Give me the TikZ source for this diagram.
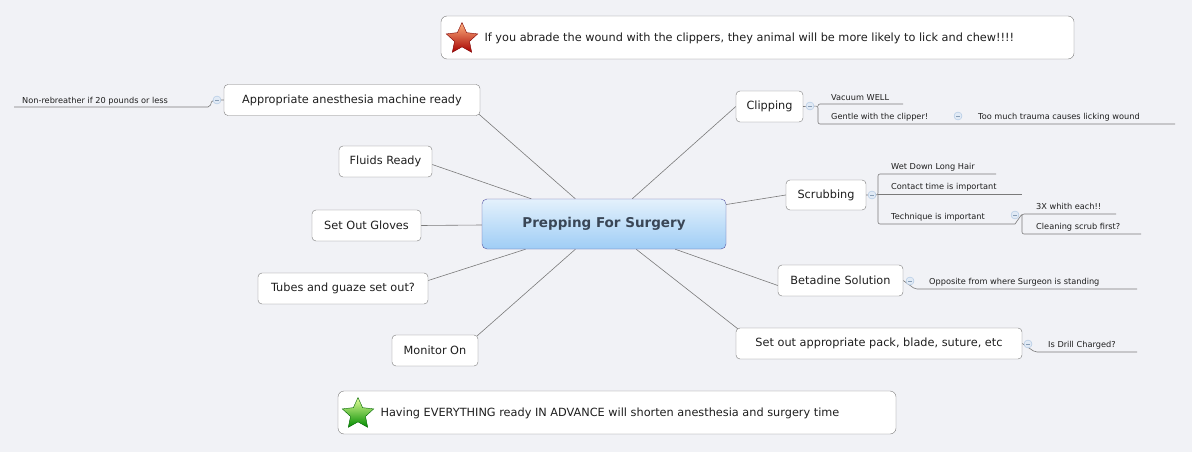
\documentclass[tikz,border=0pt]{standalone}
\usepackage{fontspec}
\setmainfont{DejaVu Sans}
\usetikzlibrary{backgrounds,shapes.geometric}
\definecolor{bgc}{HTML}{F1F2F6}
\definecolor{lnc}{HTML}{7A7A7A}
\definecolor{tc}{HTML}{1E1E1E}
\definecolor{cb}{HTML}{A9C4E2}
\definecolor{ctop}{HTML}{E4F1FC}
\definecolor{cbot}{HTML}{9FCDF5}
\definecolor{ctext}{HTML}{3A4656}
\tikzset{
  topic/.style={draw=lnc,fill=white,rounded corners=4pt,inner sep=0pt,font=\fontsize{11.3}{13}\selectfont,text=tc},
  sub/.style={font=\fontsize{8.2}{10}\selectfont,text=tc,inner sep=0pt},
  con/.style={draw=lnc,line width=0.6pt},
  ul/.style={draw=lnc,line width=0.6pt,rounded corners=2pt},
}
\newcommand{\collapse}[2]{\node[circle,draw=cb,fill=cb!35,minimum size=8pt,inner sep=0pt] at (#1,#2) {}; \draw[cb!80!black,line width=0.5pt] (#1-2,#2) -- (#1+2,#2);}
\begin{document}
\begin{tikzpicture}[x=1pt,y=-1pt]
\useasboundingbox (0,0) rectangle (1192,452);
% center
\node[draw=lnc!70!blue,rounded corners=5pt,top color=ctop,bottom color=cbot,minimum width=244pt,minimum height=50pt,font=\bfseries\fontsize{13.5}{15}\selectfont,text=ctext] (c) at (604,224) {Prepping For Surgery};
% left topics
\node[topic,minimum width=256pt,minimum height=31pt] (a1) at (352,100) {Appropriate anesthesia machine ready};
\node[topic,minimum width=93pt,minimum height=31pt] (a2) at (385.5,161.5) {Fluids Ready};
\node[topic,minimum width=109pt,minimum height=31pt] (a3) at (366.5,225.5) {Set Out Gloves};
\node[topic,minimum width=170pt,minimum height=31pt] (a4) at (343,288.5) {Tubes and guaze set out?};
\node[topic,minimum width=86pt,minimum height=31pt] (a5) at (435,350.5) {Monitor On};
% right topics
\node[topic,minimum width=67pt,minimum height=31pt] (b1) at (769.5,106.5) {Clipping};
\node[topic,minimum width=80pt,minimum height=30pt] (b2) at (826,195) {Scrubbing};
\node[topic,minimum width=125pt,minimum height=31pt] (b3) at (840.5,280.5) {Betadine Solution};
\node[topic,minimum width=286pt,minimum height=31pt] (b4) at (879,343.5) {Set out appropriate pack, blade, suture, etc};
\begin{scope}[on background layer]
\fill[bgc] (0,0) rectangle (1192,452);
\draw[con] (c) -- ([xshift=-3pt,yshift=3pt]a1.south east);
\draw[con] (c) -- ([yshift=-3pt]a2.east);
\draw[con] (c) -- (a3.east);
\draw[con] (c) -- ([yshift=8pt]a4.east);
\draw[con] (c) -- ([xshift=-1pt,yshift=-1pt]a5.north east);
\draw[con] (c) -- (b1.west);
\draw[con] (c) -- (b2.west);
\draw[con] (c) -- ([yshift=-5pt]b3.west);
\draw[con] (c) -- ([xshift=2pt,yshift=-1pt]b4.north west);
\end{scope}
% left subtopic
\node[sub,anchor=base west] (s0) at (22,103) {Non-rebreather if 20 pounds or less};
\draw[ul] (14,107) -- (210,107) -- (212,100) -- (a1.west);
\collapse{217}{100}
% clipping
\draw[ul] (b1.east) -- (818,106) -- (818,124) -- (1175,124);
\draw[ul] (818,106) -- (818,104) -- (903,104);
\collapse{810}{106}
\node[sub,anchor=base west] (s1) at (831,100) {Vacuum WELL};
\node[sub,anchor=base west] (s2) at (831,120) {Gentle with the clipper!};
\node[sub,anchor=base west] (s3) at (978,120) {Too much trauma causes licking wound};
\collapse{958}{116}
% scrubbing
\draw[ul] (b2.east) -- (878,195) -- (878,174) -- (996,174);
\draw[ul] (878,194) -- (1022,194);
\draw[ul] (878,194) -- (878,224) -- (1015,224);
\collapse{872}{195}
\node[sub,anchor=base west] (s4) at (891,169) {Wet Down Long Hair};
\node[sub,anchor=base west] (s5) at (891,189) {Contact time is important};
\node[sub,anchor=base west] (s6) at (891,219) {Technique is important};
\draw[ul] (1015,224) -- (1022,214) -- (1116,214);
\draw[ul] (1022,214) -- (1022,234) -- (1141,234);
\collapse{1015}{215}
\node[sub,anchor=base west] (s7) at (1036,209) {3X whith each!!};
\node[sub,anchor=base west] (s8) at (1036,229) {Cleaning scrub first?};
% betadine
\draw[ul] (b3.east) -- (915,289) -- (1137,289);
\collapse{910}{281}
\node[sub,anchor=base west] (s9) at (929,284) {Opposite from where Surgeon is standing};
% pack
\draw[ul] (b4.east) -- (1035,352) -- (1137,352);
\collapse{1028}{344}
\node[sub,anchor=base west] (s10) at (1048,347) {Is Drill Charged?};
% callouts
\node[draw=lnc,fill=white,rounded corners=6pt,minimum width=633pt,minimum height=43pt] (n1) at (757.5,37.5) {};
\node[star,star points=5,star point ratio=2.1,draw=red!50!black,top color=red!20!orange!50,bottom color=red!65!black,minimum size=33pt,inner sep=0pt] (st1) at (462,39) {};
\node[anchor=west,font=\fontsize{11.3}{13}\selectfont,text=tc] (t1) at (481,38) {If you abrade the wound with the clippers, they animal will be more likely to lick and chew!!!!};
\node[draw=lnc,fill=white,rounded corners=6pt,minimum width=558pt,minimum height=43pt] (n2) at (617,412.5) {};
\node[star,star points=5,star point ratio=2.1,draw=green!40!black,top color=green!25!yellow!40,bottom color=green!55!black,minimum size=33pt,inner sep=0pt] (st2) at (358,414) {};
\node[anchor=west,font=\fontsize{11.3}{13}\selectfont,text=tc] (t2) at (377,413) {Having EVERYTHING ready IN ADVANCE will shorten anesthesia and surgery time};
\end{tikzpicture}
\end{document}
